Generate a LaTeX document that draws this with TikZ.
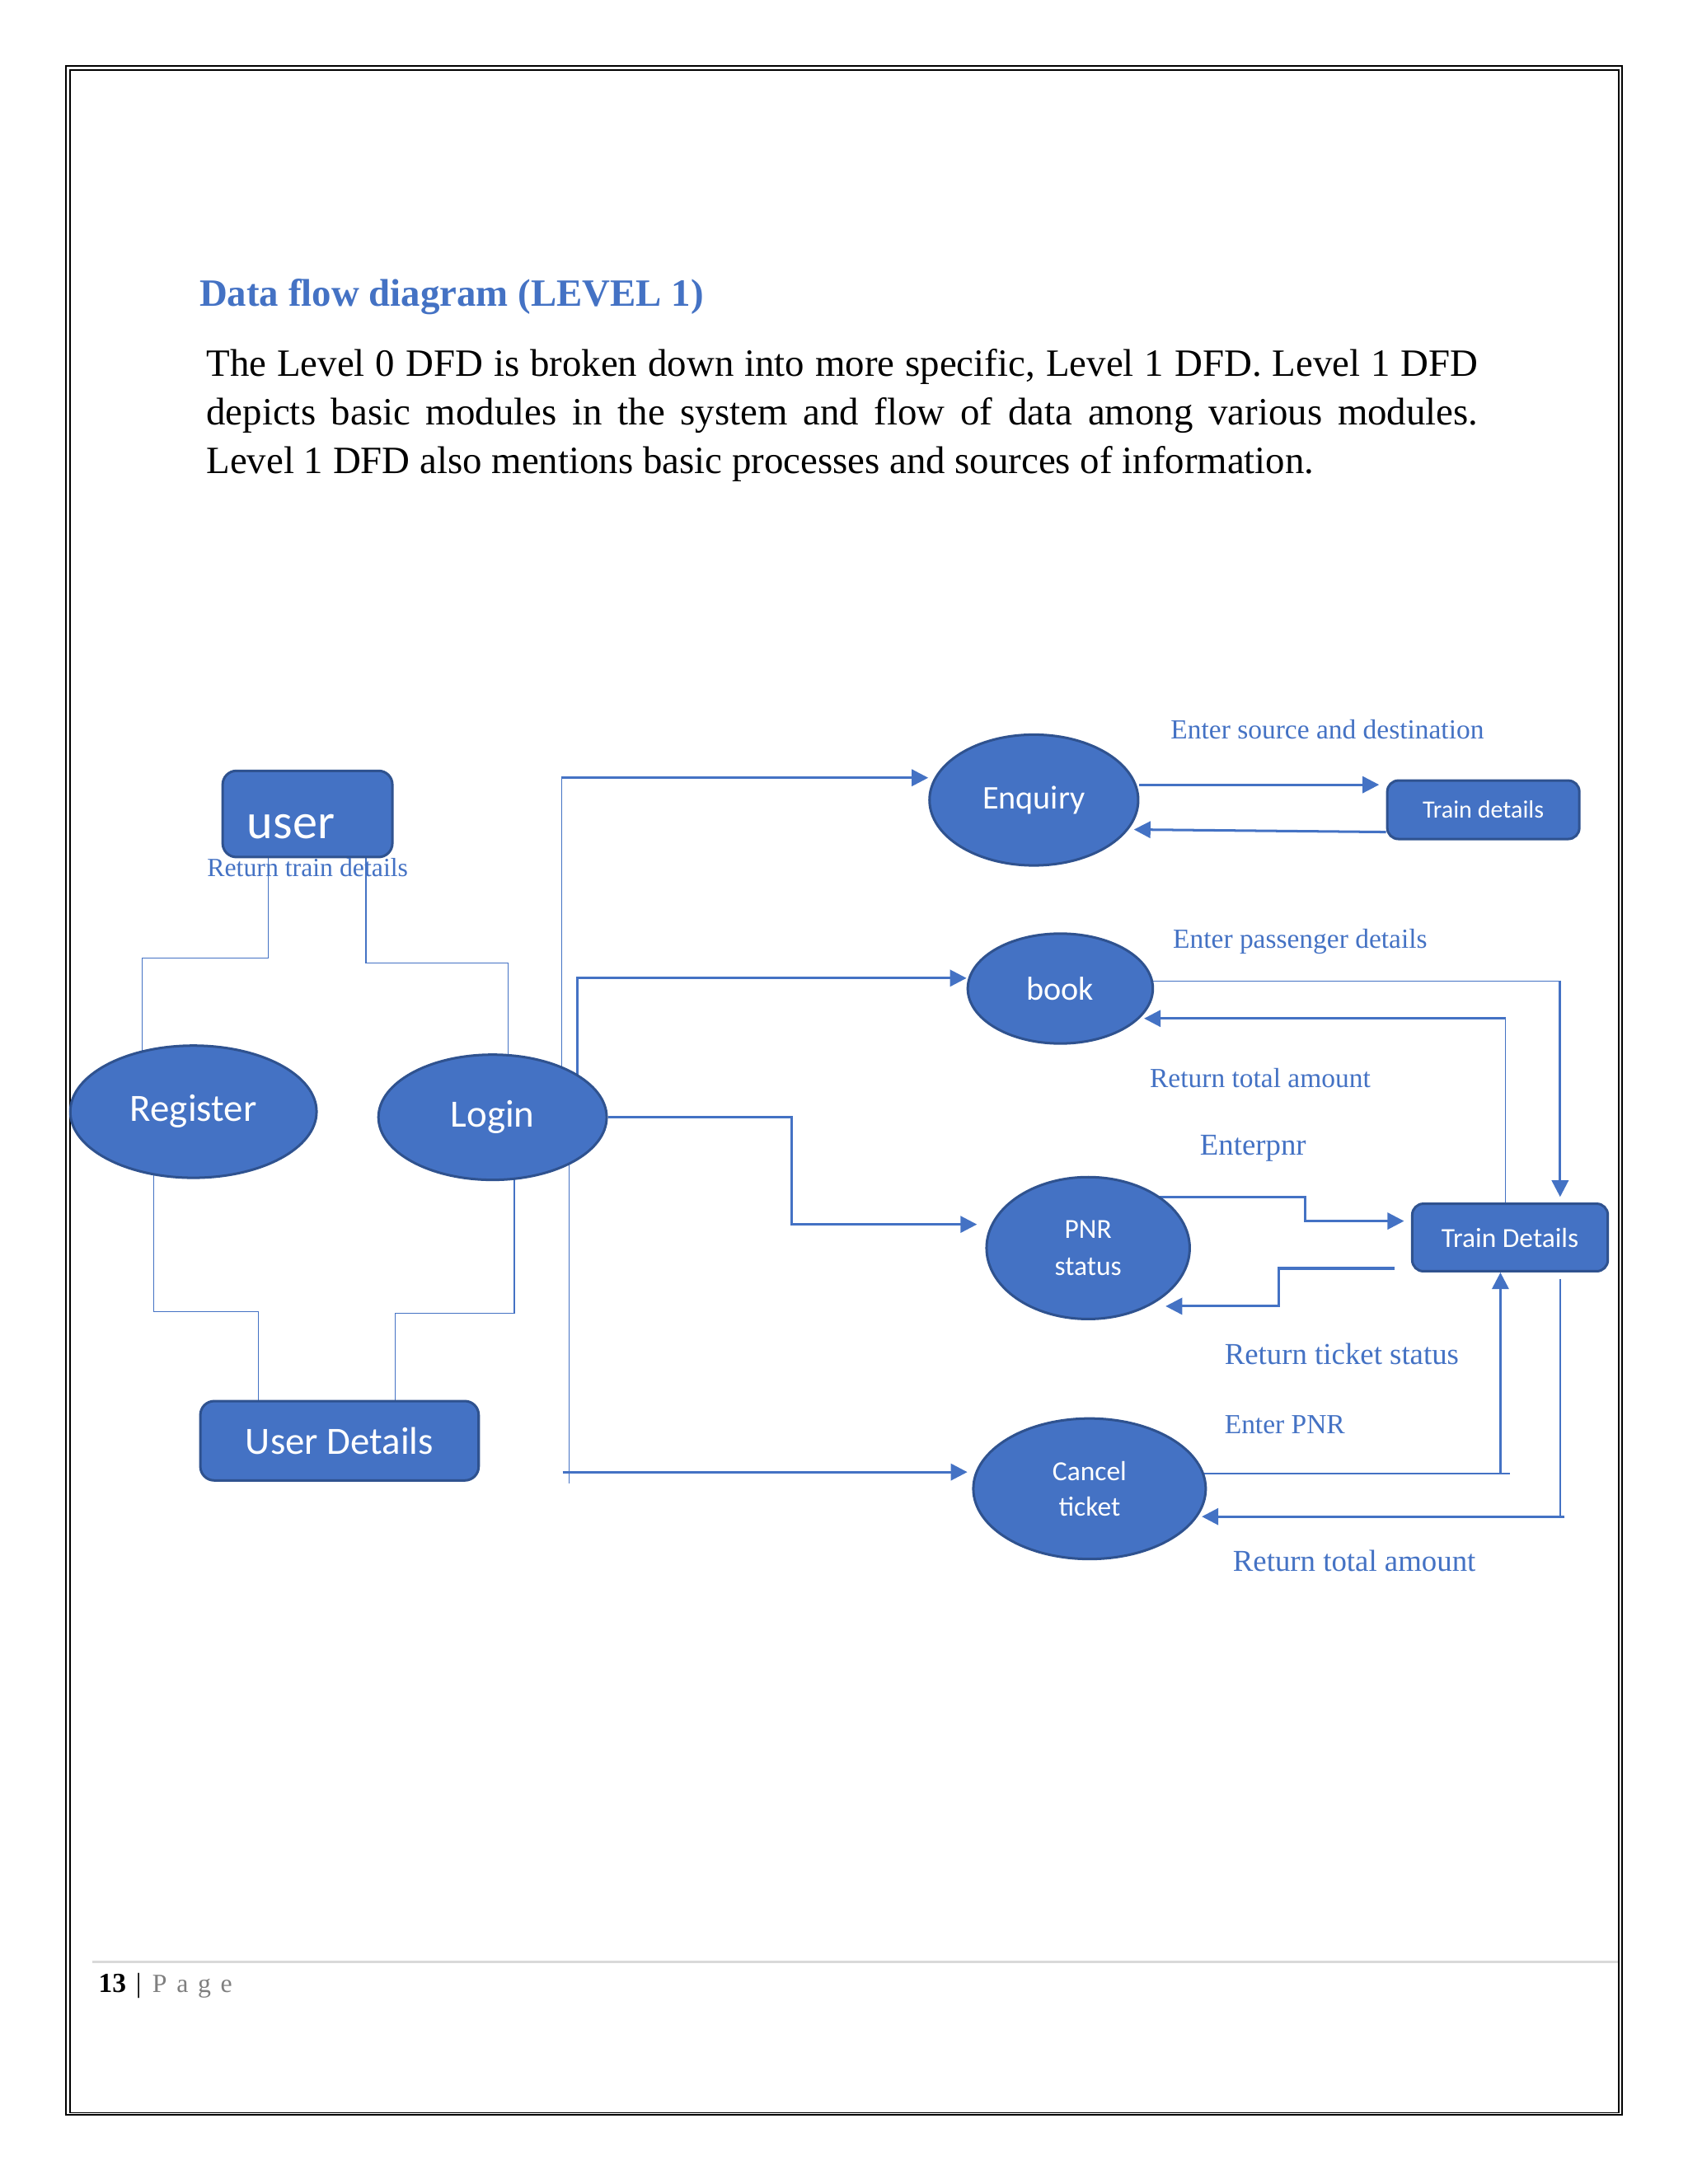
\documentclass[tikz,border=0pt]{standalone}
\usepackage{fontspec}
\setmainfont{Liberation Serif}
\newfontfamily\calib{Carlito}
\usetikzlibrary{shapes.geometric,arrows.meta,calc}
\definecolor{dfdblue}{HTML}{4472C4}
\definecolor{dfdedge}{HTML}{2F528F}
\definecolor{pagegray}{HTML}{7F7F7F}
\definecolor{rulegray}{HTML}{D9D9D9}
\pgfdeclarelayer{pagebg}
\pgfdeclarelayer{background}
\pgfsetlayers{pagebg,background,main}
\def\dpx{0.50454pt}
\tikzset{
  proc/.style={ellipse, draw=dfdedge, line width=0.9pt, fill=dfdblue, text=white, inner sep=0pt},
  store/.style={rectangle, rounded corners=5pt, draw=dfdedge, line width=0.9pt, fill=dfdblue, text=white, inner sep=0pt},
  flowthin/.style={draw=dfdblue, line width=0.4pt},
  flowthick/.style={draw=dfdblue, line width=0.9pt},
  arr/.style={-{Triangle[length=6pt,width=6pt]}},
  lbl/.style={text=dfdblue, inner sep=0pt, anchor=base west},
}
\newcommand{\cfont}[1]{\calib\fontsize{#1}{#1}\selectfont}
\newcommand{\tfont}[1]{\fontsize{#1}{#1}\selectfont}
\begin{document}
\begin{tikzpicture}[x=0.50454pt, y=-0.50454pt]
\useasboundingbox (0,0) rectangle (1213,1569.7);
\begin{pgfonlayer}{pagebg}
\fill[white] (0,0) rectangle (1213,1569.7);
\end{pgfonlayer}

% page border
\draw[line width=0.6pt] (47.6,47.6) rectangle (1165.7,1520.2);
\draw[line width=0.5pt] (50.4,50.4) rectangle (1163.2,1518.4);

% heading and paragraph
\node[anchor=base west, inner sep=0pt, text=dfdblue, font=\tfont{14}\bfseries] (title) at (143,220.3) {Data flow diagram (LEVEL 1)};
\node[anchor=north west, inner sep=0pt, text width=461.1pt, align=justify,
      font=\fontsize{14}{17.66}\selectfont] (para) at (148,250)
  {\tolerance=10000\hyphenpenalty=10000\rule{0pt}{10pt}The Level 0 DFD is broken down into more specific, Level 1 DFD. Level 1 DFD\linebreak
   depicts basic modules in the system and flow of data among various modules.\linebreak
   Level 1 DFD also mentions basic processes and sources of information.};

% nodes
\node[store, minimum width=122*\dpx, minimum height=62*\dpx, font=\cfont{18}] (user) at (221,585) {\raisebox{-4.5pt}[\height][0pt]{user}\kern12pt\relax};
\node[proc, minimum width=177*\dpx, minimum height=95*\dpx, font=\cfont{14}] (register) at (139,799) {Register};
\node[proc, minimum width=164*\dpx, minimum height=90*\dpx, font=\cfont{14}] (login) at (354,803) {Login};
\node[store, minimum width=200*\dpx, minimum height=57*\dpx, font=\cfont{14}] (userdetails) at (244,1035.5) {User Details};
\node[proc, minimum width=150*\dpx, minimum height=94*\dpx, font=\cfont{12}] (enquiry) at (743,575) {Enquiry};
\node[store, rounded corners=4pt, minimum width=138*\dpx, minimum height=42*\dpx, font=\cfont{9}] (traindet1) at (1066,582) {Train details};
\node[proc, minimum width=133*\dpx, minimum height=79*\dpx, font=\cfont{12}] (book) at (762,710.5) {book};
\node[proc, minimum width=146*\dpx, minimum height=102*\dpx, align=center, font=\calib\fontsize{10}{13.2}\selectfont] (pnr) at (782,897) {PNR\\status};
\node[store, rounded corners=4pt, minimum width=140.5*\dpx, minimum height=48.5*\dpx, font=\cfont{10}] (traindet2) at (1085.2,889.4) {Train Details};
\node[proc, minimum width=167*\dpx, minimum height=101*\dpx, align=center, font=\calib\fontsize{10}{13}\selectfont] (cancel) at (783,1070) {Cancel\\ticket};

% labels
\node[lbl, font=\tfont{9.5}] (lrtd) at (148.5,630) {Return train details};
\node[lbl, font=\tfont{10}] (lesd) at (841,531) {Enter source and destination};
\node[lbl, font=\tfont{10}] (lepd) at (842.6,681.2) {Enter passenger details};
\node[lbl, font=\tfont{10}] (lrta1) at (826,781.3) {Return total amount};
\node[lbl, font=\tfont{11}] (lepnr) at (862,830.4) {Enterpnr};
\node[lbl, font=\tfont{11}] (lrts) at (879.7,980.4) {Return ticket status};
\node[lbl, font=\tfont{10}] (lepnr2) at (879.7,1030.6) {Enter PNR};
\node[lbl, font=\tfont{11}] (lrta2) at (885.7,1129) {Return total amount};

% free ends
\coordinate (c8s) at (404.4,1058);
\coordinate (c14s) at ($(traindet2.west |- 0,911.6)+(-12,0)$);
\coordinate (c16s) at ($(traindet2.south -| 1121.2,0)+(0,4.5)$);
\coordinate (c16e) at (1124.5,1090);
\coordinate (c15e) at (1085.3,1059);

% connectors partly hidden under shapes
\begin{pgfonlayer}{background}
\draw[flowthin] (user.south -| 193,0) -- (193,688.7) -- (102,688.7) -- (register.center -| 102,0);
\draw[flowthin] (user.south -| 263,0) -- (263,692) -- (365.3,692) -- (login.center -| 365.3,0);
\draw[flowthin] (register.center -| 110.3,0) -- (110.3,942.6) -- (185.7,942.6) -- (userdetails.center -| 185.7,0);
\draw[flowthin] (login.center -| 369.6,0) -- (369.6,944) -- (284,944) -- (userdetails.center -| 284,0);
\draw[flowthin, line cap=rect] (login.center -| 403.5,0) -- (403.5,559);
\draw[flowthick, line cap=rect] (login.center -| 415,0) -- (415,703);
\draw[flowthin] (login.center -| 409,0) -- (409,1066);
\draw[flowthin] (book.center |- 0,705) -- (1121.2,705);
\draw[flowthin] (traindet2.center -| 1082,0) -- (1082,732);
\draw[flowthick, arr] (pnr.center |- 0,860.6) -- (938.2,860.6) -- (938.2,877.6) -- ($(traindet2.west |- 0,877.6)+(-5,0)$);
\draw[flowthin] (cancel.center |- 0,1059) -- (c15e);
\end{pgfonlayer}

% connectors on top
\draw[flowthick, arr] (403.1,559) -- (enquiry.west |- 0,559);
\draw[flowthick, arr] (415,703) -- (book.west |- 0,703);
\draw[flowthick, arr] (login.east) -- (568.8,803) -- (568.8,880) -- ($(pnr.west |- 0,880)+(-6,0)$);
\draw[flowthick, arr] (c8s) -- ($(cancel.west |- 0,1058)+(-3.4,0)$);
\draw[flowthick, arr] (enquiry.east |- 0,564) -- ($(traindet1.west |- 0,564)+(-5,0)$);
\draw[flowthick, arr] (traindet1.west |- 0,598) -- ($(enquiry.east |- 0,596.2)+(-4,0)$);
\draw[flowthick, arr] (1121.2,704.6) -- ($(traindet2.north -| 1121.2,0)+(0,-4)$);
\draw[flowthick, arr] (1082.2,732) -- ($(book.east |- 0,732)+(-7.2,0)$);
\draw[flowthick, arr] (c14s) -- (919.2,911.6) -- (919.2,938.8) -- ($(pnr.east |- 0,938.8)+(-18.2,0)$);
\draw[flowthick, arr] (1078.3,1059.4) -- (traindet2.south -| 1078.3,0);
\draw[flowthin] (c16s) -- (1121.2,1090);
\draw[flowthick, arr] (c16e) -- ($(cancel.east |- 0,1090)+(-3.7,0)$);

% footer
\draw[rulegray, line width=0.9pt] (66.5,1410) -- (1162.5,1410);
\node[anchor=base west, inner sep=0pt, font=\tfont{10}] (pageno) at (70.5,1432)
  {\textbf{13}\hspace{3.5pt}|\hspace{4pt}{\color{pagegray}\tfont{9.5}P\hspace{3.5pt}a\hspace{3.5pt}g\hspace{3.5pt}e}};
\end{tikzpicture}
\end{document}
